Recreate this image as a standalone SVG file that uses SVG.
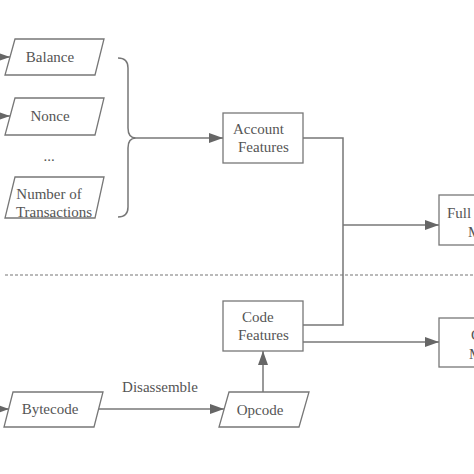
<svg xmlns="http://www.w3.org/2000/svg" width="474" height="474" viewBox="0 0 474 474">
<defs>
<marker id="ah" viewBox="0 0 14 10" refX="14" refY="5" markerWidth="14" markerHeight="10" markerUnits="userSpaceOnUse" orient="auto">
<path d="M0,0 L14,5 L0,10 Z" fill="#666"/>
</marker>
</defs>
<style>
.shape{fill:#fff;stroke:#777;stroke-width:1.3}
.ln{fill:none;stroke:#777;stroke-width:1.5}
.t{font-family:"Liberation Serif","Times New Roman",serif;font-size:15px;fill:#555}
.c{text-anchor:middle}
</style>
<rect width="474" height="474" fill="#fff"/>
<g id="connectors">
<line class="ln" x1="-10" y1="57" x2="10" y2="57" marker-end="url(#ah)"/>
<line class="ln" x1="-10" y1="116" x2="10" y2="116" marker-end="url(#ah)"/>
<line class="ln" x1="-10" y1="409" x2="9" y2="409" marker-end="url(#ah)"/>
<path class="ln" d="M118,58 Q128,58 128,68 L128,128 Q128,138 136,138 Q128,138 128,148 L128,207 Q128,217 118,217"/>
<line class="ln" x1="136" y1="138" x2="223" y2="138" marker-end="url(#ah)"/>
<polyline class="ln" points="303,138 343,138 343,325 303,325"/>
<line class="ln" x1="343" y1="225" x2="439" y2="225" marker-end="url(#ah)"/>
<line class="ln" x1="303" y1="342" x2="439" y2="342" marker-end="url(#ah)"/>
<line class="ln" x1="99" y1="409" x2="224" y2="409" marker-end="url(#ah)"/>
<line class="ln" x1="263" y1="392" x2="263" y2="351" marker-end="url(#ah)"/>
<text class="t c" x="160" y="392">Disassemble</text>
<line x1="5" y1="275" x2="474" y2="275" stroke="#777" stroke-width="1.2" stroke-dasharray="3,2"/>
</g>
<g id="balance">
<polygon class="shape" points="15,39 104,39 95,75 5,75"/>
<text class="t c" x="50" y="62">Balance</text>
</g>
<g id="nonce">
<polygon class="shape" points="15,98 104,98 95,135 5,135"/>
<text class="t c" x="50" y="121">Nonce</text>
</g>
<g id="ellipsis">
<text class="t c" x="49" y="161">...</text>
</g>
<g id="numtx">
<polygon class="shape" points="15,177 104,177 95,218 5,218"/>
<text class="t c" x="49" y="199">Number of</text>
<text class="t c" x="54" y="217">Transactions</text>
</g>
<g id="account">
<rect class="shape" x="223" y="113" width="80" height="50"/>
<text class="t" x="233" y="134">Account</text>
<text class="t" x="238" y="152">Features</text>
</g>
<g id="code">
<rect class="shape" x="223" y="301" width="80" height="50"/>
<text class="t" x="242" y="322">Code</text>
<text class="t" x="238" y="340">Features</text>
</g>
<g id="full">
<rect class="shape" x="439" y="195" width="80" height="50"/>
<text class="t" x="447" y="218">Full</text>
<text class="t" x="468" y="237">Model</text>
</g>
<g id="codemodel">
<rect class="shape" x="439" y="318" width="80" height="49"/>
<text class="t" x="471" y="340">Code</text>
<text class="t" x="469" y="359">Model</text>
</g>
<g id="bytecode">
<polygon class="shape" points="13,392 103,392 94,427 4,427"/>
<text class="t c" x="50" y="414">Bytecode</text>
</g>
<g id="opcode">
<polygon class="shape" points="229,392 309,392 299,427 219,427"/>
<text class="t c" x="260" y="415">Opcode</text>
</g>
</svg>
